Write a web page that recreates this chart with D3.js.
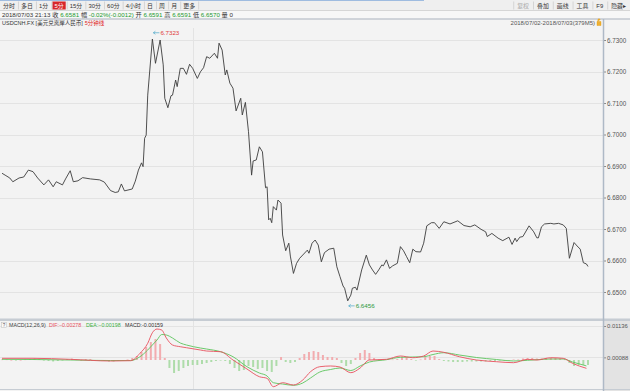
<!DOCTYPE html>
<html>
<head>
<meta charset="utf-8">
<script src="https://d3js.org/d3.v7.min.js"></script>
<style>
body { margin: 0; background: #f3f3f3; }
text { font-family: "Liberation Sans", "Noto Sans CJK SC", sans-serif; }
</style>
</head>
<body>
<div id="chart"></div>
<script>
// close price of the 5 minute bars (bar index, close)
var priceBars = [0,2,5,7,11,14,17,20,23,27,30,33,35,39,41,44,46,49,52,57,63,66,70,73,75,77,79,84,86,88,
	90,91,92,93,94,97,99,102,104,105,107,109,110,112,113,115,117,119,121,123,126,128,130,132,134,137,139,140,142,144,
	145,147,149,151,154,155,157,159,161,162,164,166,168,170,171,172,173,174,175,177,178,180,181,183,185,186,188,190,192,197,
	198,200,202,204,206,208,211,214,216,218,220,221,223,225,226,228,229,232,235,237,239,241,243,245,246,248,250,252,255,257,
	259,261,263,265,267,270,272,274,277,279,282,285,289,294,298,302,305,309,312,313,316,320,323,327,329,331,332,334,336,340,
	343,345,346,348,350,354,356,359,362,364,366,369,371,373,375,377,378];
var priceClose = [6.6877,6.6871,6.6862,6.6850,6.6862,6.6865,6.6887,6.6882,6.6862,6.6840,6.6856,6.6834,6.6850,6.6840,6.6859,6.6885,6.6850,6.6853,6.6863,6.6859,6.6856,6.6849,6.6822,6.6816,6.6818,6.6843,6.6821,6.6827,6.6852,6.6887,
	6.6910,6.6898,6.6988,6.6998,6.7125,6.7303,6.7226,6.7300,6.7221,6.7115,6.7085,6.7123,6.7125,6.7173,6.7152,6.7210,6.7210,6.7191,6.7223,6.7210,6.7178,6.7199,6.7212,6.7247,6.7242,6.7258,6.7242,6.7290,6.7268,6.7189,
	6.7205,6.7163,6.7147,6.7075,6.7115,6.7062,6.7102,6.7009,6.6871,6.6916,6.6919,6.6961,6.6945,6.6831,6.6834,6.6729,6.6734,6.6720,6.6771,6.6760,6.6792,6.6782,6.6681,6.6631,6.6655,6.6614,6.6559,6.6591,6.6607,6.6633,
	6.6623,6.6655,6.6665,6.6649,6.6596,6.6625,6.6636,6.6639,6.6580,6.6549,6.6519,6.6512,6.6472,6.6490,6.6512,6.6515,6.6506,6.6570,6.6617,6.6586,6.6570,6.6556,6.6570,6.6586,6.6583,6.6602,6.6575,6.6583,6.6591,6.6644,
	6.6631,6.6612,6.6593,6.6636,6.6628,6.6627,6.6655,6.6710,6.6720,6.6720,6.6702,6.6723,6.6716,6.6726,6.6711,6.6707,6.6713,6.6699,6.6691,6.6676,6.6686,6.6671,6.6663,6.6674,6.6651,6.6671,6.6660,6.6674,6.6676,6.6710,
	6.6691,6.6672,6.6672,6.6707,6.6716,6.6718,6.6716,6.6718,6.6713,6.6702,6.6607,6.6657,6.6646,6.6636,6.6593,6.6589,6.6581];
var priceTicks = [6.73, 6.72, 6.71, 6.70, 6.69, 6.68, 6.67, 6.66, 6.65];
var gridBars = [123];

// max / min marks (high, low)
var markBars = [97, 223];
var markValues = [6.7323, 6.6456];

// MACD(12,26,9)
var macdBars = [0,20,44,70,83,89,94,97,100,103,106,110,115,119,128,132,141,149,158,166,171,175,181,188,194,199,205,212,218,225,
	231,237,248,257,265,272,278,285,295,306,319,330,339,345,354,362,368,377];
var difValues = [0.00057,0.00057,0.00023,-0.00033,-0.00023,0.00224,0.00558,0.00912,0.01035,0.01002,0.00735,0.00501,0.00444,0.00410,0.00334,0.00300,0.00277,0,-0.00300,-0.00558,-0.00612,-0.00892,-0.00758,-0.00835,-0.00668,-0.00391,-0.00224,-0.00200,-0.00234,-0.00424,
	-0.00267,0,0.00023,0.00134,0.00077,0.00134,0.00300,0.00257,0.00110,0,-0.00057,-0.00090,0.00023,0,0.00077,0.00057,-0.00110,-0.00278];
var deaValues = [0.00023,0.00017,0,-0.00017,-0.00017,0.00110,0.00334,0.00501,0.00668,0.00852,0.00835,0.00735,0.00568,0.00501,0.00401,0.00367,0.00277,0.00110,-0.00224,-0.00434,-0.00534,-0.00758,-0.00802,-0.00845,-0.00768,-0.00601,-0.00401,-0.00317,-0.00267,-0.00351,
	-0.00200,-0.00067,0.00010,0.00090,0.00100,0.00110,0.00184,0.00244,0.00167,0.00084,0.00017,-0.00033,-0.00010,0.00010,0.00033,0.00033,-0.00067,-0.00198];
// histogram, one value every 3 bars
var histValues = [0.00017,0.00017,0,-0.00017,0,0.00017,0.00033,0.00050,0.00033,-0.00017,-0.00033,-0.00050,-0.00033,-0.00017,0.00033,0.00050,0.00017,0,0.00033,0.00033,
	0,-0.00017,-0.00033,-0.00050,-0.00050,-0.00033,-0.00017,0.00017,0.00067,0.00134,0.00267,0.00434,0.00601,0.00701,0.00534,0.00067,-0.00267,-0.00434,-0.00367,-0.00267,
	-0.00200,-0.00167,-0.00167,-0.00134,-0.00100,-0.00067,-0.00033,-0.00017,-0.00033,-0.00134,-0.00267,-0.00367,-0.00334,-0.00200,-0.00234,-0.00300,-0.00267,-0.00367,-0.00400,-0.00200,
	0.00100,-0.00067,-0.00100,-0.00067,0.00067,0.00200,0.00267,0.00300,0.00267,0.00167,0.00100,0.00100,0.00067,-0.00100,-0.00200,-0.00134,0.00067,0.00234,0.00334,0.00234,
	0.00067,0.00017,0.00017,0.00033,0.00017,0.00033,0.00100,0.00100,0.00033,-0.00017,0.00017,0.00100,0.00134,0.00134,0.00033,-0.00033,-0.00050,-0.00067,-0.00067,-0.00067,
	-0.00050,-0.00050,-0.00050,-0.00050,-0.00050,-0.00033,-0.00033,-0.00017,0,0,0.00017,0.00017,0.00050,0.00067,0.00067,0.00050,0.00050,0.00067,0.00067,0.00067,
	0.00050,0.00017,-0.00100,-0.00200,-0.00167,-0.00167,-0.00167];
var histBars = d3.range(0, 379, 3);
var macdTicks = [0.01136, 0.00088];

var toolButtons = ["分时", "多日", "1分", "5分", "15分", "30分", "60分", "4小时", "日", "周", "月", "更多"];
var toolRight = ["复权", "叠加", "画线", "工具", "F9", "隐藏▸"];

var width = 630, height = 391;
var axisX = 603;

var svg = d3.select("#chart").append("svg")
	.attr("width", width)
	.attr("height", height);

var x = d3.scaleLinear().domain([0, 378]).range([2, 588]);
var y = d3.scaleLinear().domain([6.65, 6.73]).range([292, 40]);
var ym = d3.scaleLinear().domain([-0.00935, 0.01136]).range([388, 326]);

// backgrounds
svg.append("rect").attr("width", width).attr("height", height).attr("fill", "#f3f3f3");
svg.append("rect").attr("x", 0).attr("y", 0).attr("width", width).attr("height", 10).attr("fill", "#efefef");
svg.append("rect").attr("x", 0).attr("y", 10).attr("width", width).attr("height", 9).attr("fill", "#f7f7f7");
svg.append("rect").attr("x", axisX + 1).attr("y", 321).attr("width", width - axisX).attr("height", 70).attr("fill", "#e3e3e3");
svg.append("line").attr("x1", 0).attr("x2", 424).attr("y1", 0.5).attr("y2", 0.5).attr("stroke", "#9fbce0");
svg.append("line").attr("x1", 0).attr("x2", width).attr("y1", 10.5).attr("y2", 10.5).attr("stroke", "#d6d6d6");
svg.append("line").attr("x1", 0).attr("x2", width).attr("y1", 19).attr("y2", 19).attr("stroke", "#c3c9d0").attr("stroke-width", 1.5);

// toolbar
var cx = 0;
toolButtons.forEach(function(label, i) {
	var t = svg.append("text").attr("y", 7.6).attr("font-size", 5.9).text(label);
	var w = t.node().getComputedTextLength() + 6.2;
	if (label == "5分") {
		svg.insert("rect", "text").attr("x", cx + 1).attr("y", 1.5).attr("width", w - 2).attr("height", 8).attr("fill", "#d7262b");
		t.attr("fill", "#fff");
	} else {
		t.attr("fill", "#333");
	}
	t.attr("x", cx + w / 2).attr("text-anchor", "middle");
	cx += w;
	svg.append("line").attr("x1", cx + 0.5).attr("x2", cx + 0.5).attr("y1", 1.5).attr("y2", 9.5).attr("stroke", "#d4d4d4");
});
cx = width;
toolRight.slice().reverse().forEach(function(label) {
	var t = svg.append("text").attr("y", 7.6).attr("font-size", 5.9).attr("text-anchor", "middle")
		.attr("fill", label == "复权" ? "#aaa" : "#333").text(label);
	var w = t.node().getComputedTextLength() + 8;
	t.attr("x", cx - w / 2);
	cx -= w;
	svg.append("line").attr("x1", cx + 0.5).attr("x2", cx + 0.5).attr("y1", 1.5).attr("y2", 9.5).attr("stroke", "#d4d4d4");
});

// info row
var info = svg.append("text").attr("x", 2).attr("y", 17).attr("font-size", 6.2).attr("fill", "#333");
[["2018/07/03 21:13 收 ", "#333"], ["6.6581", "#1a9a2e"], [" 幅 ", "#333"], ["-0.02%(-0.0012)", "#1a9a2e"],
 [" 开 ", "#333"], ["6.6591", "#1a9a2e"], [" 高 ", "#333"], ["6.6591", "#1a9a2e"],
 [" 低 ", "#333"], ["6.6570", "#1a9a2e"], [" 量 0", "#333"]].forEach(function(p) {
	info.append("tspan").attr("fill", p[1]).text(p[0]);
});
// stretch the info row to the width seen in the picture
info.attr("textLength", 231).attr("lengthAdjust", "spacing");

var title = svg.append("text").attr("x", 2).attr("y", 25.2).attr("font-size", 5.5).attr("fill", "#333")
	.text("USDCNH.FX [美元兑离岸人民币]");
var titleEnd = 2 + title.node().getComputedTextLength();
svg.append("text").attr("x", titleEnd + 2).attr("y", 25.2).attr("font-size", 5.5).attr("fill", "#e02424")
	.text("5分钟线");
svg.append("text").attr("x", 595).attr("y", 25).attr("font-size", 6).attr("text-anchor", "end")
	.attr("fill", "#555").text("2018/07/02-2018/07/03(379M5)");
svg.append("path").attr("d", "M597,21.5 h4 v4 h-4 z M597.8,21.5 v-1.5 a1.2,1.2 0 0 1 2.4,0")
	.attr("fill", "#f0b030").attr("stroke", "#e09a10").attr("stroke-width", 0.4);

// grid
svg.selectAll(".hgrid").data(priceTicks).enter().append("line")
	.attr("x1", 0).attr("x2", axisX)
	.attr("y1", function(d) { return Math.round(y(d)) + 0.5; })
	.attr("y2", function(d) { return Math.round(y(d)) + 0.5; })
	.attr("stroke", "#e3e3e3");
svg.selectAll(".vgrid").data(gridBars).enter().append("line")
	.attr("x1", function(d) { return Math.round(x(d)) + 0.5; })
	.attr("x2", function(d) { return Math.round(x(d)) + 0.5; })
	.attr("y1", 28).attr("y2", 389)
	.attr("stroke", "#e3e3e3");
svg.selectAll(".mgrid").data(macdTicks).enter().append("line")
	.attr("x1", 0).attr("x2", axisX)
	.attr("y1", function(d) { return Math.round(ym(d)) + 0.5; })
	.attr("y2", function(d) { return Math.round(ym(d)) + 0.5; })
	.attr("stroke", "#e3e3e3");

// price axis
var yAxis = d3.axisRight(y).tickValues(priceTicks).tickSize(3).tickFormat(d3.format(".4f"));
var ga = svg.append("g").attr("transform", "translate(" + axisX + ",0)").call(yAxis);
ga.select(".domain").remove();
ga.selectAll("line").attr("stroke", "#888");
ga.selectAll("text").attr("x", 4).attr("font-size", 6.3).attr("fill", "#555").style("font-family", "Liberation Sans, sans-serif");

var mAxis = d3.axisRight(ym).tickValues(macdTicks).tickSize(3).tickFormat(d3.format(".5f"));
var gm = svg.append("g").attr("transform", "translate(" + axisX + ",0)").call(mAxis);
gm.select(".domain").remove();
gm.selectAll("line").attr("stroke", "#888");
gm.selectAll("text").attr("x", 4).attr("font-size", 5.9).attr("fill", "#555").style("font-family", "Liberation Sans, sans-serif");

// price line
var priceData = priceBars.map(function(b, i) { return [b, priceClose[i]]; });
svg.append("path")
	.datum(priceData)
	.attr("fill", "none")
	.attr("stroke", "#3c3c3c")
	.attr("stroke-width", 0.9)
	.attr("d", d3.line().x(function(d) { return x(d[0]); }).y(function(d) { return y(d[1]); }));

// high / low marks
markBars.forEach(function(b, i) {
	var mx = x(b) + 1, my = y(markValues[i]);
	svg.append("path").attr("d", "M" + (mx + 6) + "," + my + " H" + mx + " l2,-1.5 M" + mx + "," + my + " l2,1.5")
		.attr("fill", "none").attr("stroke", "#4aa8c8").attr("stroke-width", 0.7);
	svg.append("text").attr("x", mx + 7).attr("y", my + 2.2).attr("font-size", 6.2)
		.attr("fill", i == 0 ? "#e03a3a" : "#2a9a40").text(d3.format(".4f")(markValues[i]));
});

// panel separator and axis line
svg.append("rect").attr("x", 0).attr("y", 318.5).attr("width", width).attr("height", 2.5).attr("fill", "#c6ccd3");
svg.append("line").attr("x1", 0).attr("x2", width).attr("y1", 389.5).attr("y2", 389.5).attr("stroke", "#c6ccd3");
svg.append("line").attr("x1", axisX + 0.5).attr("x2", axisX + 0.5).attr("y1", 19).attr("y2", height)
	.attr("stroke", "#aeb9c6").attr("stroke-width", 1.5);

// MACD histogram
svg.selectAll(".hist").data(histValues).enter().append("rect")
	.attr("x", function(d, i) { return x(histBars[i]) - 1; })
	.attr("width", 2)
	.attr("y", function(d) { return d > 0 ? ym(d) : ym(0); })
	.attr("height", function(d) { return Math.max(0.6, Math.abs(ym(d) - ym(0))); })
	.attr("fill", function(d) { return d >= 0 ? "#f2acaf" : "#aedcaa"; });

var macdLine = d3.line().curve(d3.curveMonotoneX)
	.x(function(d) { return x(d[0]); }).y(function(d) { return ym(d[1]); });
svg.append("path")
	.datum(macdBars.map(function(b, i) { return [b, deaValues[i]]; }))
	.attr("fill", "none").attr("stroke", "#5cc45c").attr("stroke-width", 0.9)
	.attr("d", macdLine);
svg.append("path")
	.datum(macdBars.map(function(b, i) { return [b, difValues[i]]; }))
	.attr("fill", "none").attr("stroke", "#e8505e").attr("stroke-width", 0.9)
	.attr("d", macdLine);

// MACD legend
svg.append("rect").attr("x", 1.5).attr("y", 322.5).attr("width", 5).attr("height", 5)
	.attr("fill", "#fafafa").attr("stroke", "#bbb").attr("stroke-width", 0.5);
svg.append("text").attr("x", 4).attr("y", 326.8).attr("font-size", 4.5).attr("text-anchor", "middle").attr("fill", "#555").text("?");
var legendParts = [
	["MACD(12,26,9)", "#444", 9],
	["DIF:" + d3.format(".5f")(difValues[difValues.length - 1]), "#e8505e", 49],
	["DEA:" + d3.format(".5f")(deaValues[deaValues.length - 1]), "#3cb043", 86],
	["MACD:-0.00159", "#333", 125]
];
legendParts.forEach(function(p) {
	svg.append("text").attr("x", p[2]).attr("y", 327.3).attr("font-size", 5.3).attr("fill", p[1]).text(p[0]);
});
</script>
</body>
</html>
